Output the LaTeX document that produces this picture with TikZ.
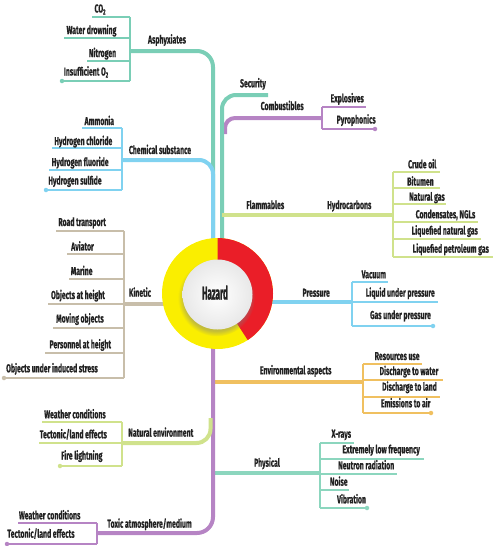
\documentclass[tikz,border=0pt]{standalone}
\usepackage{fontspec}
\setmainfont{Fira Sans}[FakeStretch=0.6,FakeBold=0.5]
\newfontfamily\hazfont{Fira Sans}[FakeStretch=0.44,FakeBold=1.2]
\newcommand{\subtwo}{\raisebox{-2pt}{\fontsize{7.5}{8}\selectfont 2}}
\usetikzlibrary{shadows}
\definecolor{cteal}{RGB}{122,206,182}
\definecolor{cblue}{RGB}{128,210,240}
\definecolor{cpurple}{RGB}{182,132,196}
\definecolor{cgreen}{RGB}{208,226,140}
\definecolor{cbeige}{RGB}{200,190,170}
\definecolor{corange}{RGB}{240,192,96}
\definecolor{cphys}{RGB}{140,214,190}
\definecolor{cred}{RGB}{234,30,40}
\definecolor{cyellow}{RGB}{250,238,0}
\definecolor{ctext}{RGB}{34,34,34}
\begin{document}
\begin{tikzpicture}[x=1pt,y=-1pt,
  lbl/.style={font=\fontsize{11.5}{13}\selectfont\bfseries, inner sep=0pt, anchor=base, text=ctext},
  mainline/.style={line width=4pt},
  subline/.style={line width=1.5pt},
  enddot/.style={circle, inner sep=0pt, minimum size=4.5pt}]
\useasboundingbox (0,0) rectangle (500,546);

% ---------- main branches ----------
\draw[mainline,cteal,rounded corners=16pt] (130,51) -- (213,51) -- (213,240);
\draw[mainline,cpurple,rounded corners=10pt] (322,118) -- (225,118) -- (225,134);
\draw[mainline,cteal,rounded corners=14pt] (268,95) -- (222,95) -- (222,240);
\draw[mainline,cblue,rounded corners=14pt] (122,160) -- (213,160) -- (213,240);
\draw[mainline,cgreen] (222,215) -- (393,215);
\draw[mainline,cbeige] (124,304) -- (170,304);
\draw[mainline,cblue] (265,302) -- (352,302);
\draw[mainline,corange] (213,382) -- (363,382);
\draw[mainline,cphys] (213,473) -- (320,473);
\draw[mainline,cpurple,rounded corners=16pt] (213,345) -- (213,533) -- (97,533);
\draw[mainline,cgreen,rounded corners=14pt] (210.5,418) -- (210.5,443) -- (122,443);

% ---------- hazard circle ----------
\coordinate (hc) at (217.5,293.5);
\fill[cyellow] (hc) circle[radius=55.5pt];
\fill[cred] (hc) -- ++(90:55.5pt) arc[start angle=90,end angle=-57,radius=55.5pt] -- cycle;
\node[circle, minimum size=70pt, inner sep=0pt,
  circular drop shadow={shadow xshift=-1pt, shadow yshift=-3pt, opacity=0.45},
  inner color=white, outer color=gray!18] (hz) at (217.5,294.5) {};
\node[lbl, font=\hazfont\fontsize{18.5}{20}\selectfont\bfseries] (hazard) at (215,299.5) {Hazard};

% ---------- Asphyxiates ----------
\node[lbl] (asph) at (167,43.5) {Asphyxiates};
\draw[subline,cteal] (130,17) -- (130,81);
\foreach \yy/\xx in {17/92,38/64,61/87,81/62} \draw[subline,cteal] (130,\yy) -- (\xx,\yy);
\node[enddot,fill=cteal] (d1) at (62,81) {};
\node[lbl] (co2) at (100,12.5) {CO\subtwo};
\node[lbl] (wd) at (91.5,34) {Water drowning};
\node[lbl] (nit) at (102.5,57) {Nitrogen};
\node[lbl] (ino) at (86,75.5) {Insufficient O\subtwo};

% ---------- Chemical substance ----------
\node[lbl] (chem) at (160,154) {Chemical substance};
\draw[subline,cblue] (122,128) -- (122,190);
\foreach \yy/\xx in {128/82,148/52,170/49,190/46} \draw[subline,cblue] (122,\yy) -- (\xx,\yy);
\node[enddot,fill=cblue] (d2) at (46,190) {};
\node[lbl] (amm) at (99.3,125) {Ammonia};
\node[lbl] (hcl) at (83.3,145) {Hydrogen chloride};
\node[lbl] (hf) at (80.2,166) {Hydrogen fluoride};
\node[lbl] (hs) at (75,184.5) {Hydrogen sulfide};

% ---------- Kinetic ----------
\node[lbl] (kin) at (140,296.7) {Kinetic};
\draw[subline,cbeige] (124,231) -- (124,378);
\foreach \yy/\xx in {231/56,254/67,279/69,304/48,328/53,353/45,378/3} \draw[subline,cbeige] (124,\yy) -- (\xx,\yy);
\node[enddot,fill=cbeige] (d3) at (4,378) {};
\node[lbl] (road) at (82.2,226) {Road transport};
\node[lbl] (avi) at (82.5,250.5) {Aviator};
\node[lbl] (mar) at (81.7,275) {Marine};
\node[lbl] (oah) at (78,299) {Objects at height};
\node[lbl] (mov) at (80,322.5) {Moving objects};
\node[lbl] (pah) at (80.3,348.3) {Personnel at height};
\node[lbl] (ouis) at (52,372.3) {Objects under induced stress};

% ---------- Natural environment ----------
\node[lbl] (nat) at (160.8,436.7) {Natural environment};
\draw[subline,cgreen] (122,422) -- (122,466);
\foreach \yy/\xx in {422/42,443/39,466/60} \draw[subline,cgreen] (122,\yy) -- (\xx,\yy);
\node[enddot,fill=cgreen] (d4) at (60,466) {};
\node[lbl] (nw) at (75,418.3) {Weather conditions};
\node[lbl] (nt) at (73.3,438.3) {Tectonic/land effects};
\node[lbl] (nfl) at (81.8,459.5) {Fire lightning};

% ---------- Toxic ----------
\node[lbl] (tox) at (149.5,527.7) {Toxic atmosphere/medium};
\draw[subline,cpurple] (97,523) -- (97,544);
\foreach \yy/\xx in {523/18,544/7} \draw[subline,cpurple] (97,\yy) -- (\xx,\yy);
\node[enddot,fill=cpurple] (d5) at (7,544) {};
\node[lbl] (tw) at (49.7,519.3) {Weather conditions};
\node[lbl] (tt) at (41,537.7) {Tectonic/land effects};

% ---------- Security / Combustibles ----------
\node[lbl] (sec) at (253,87.3) {Security};
\node[lbl] (comb) at (282.2,110) {Combustibles};
\draw[subline,cpurple] (322,107) -- (322,129);
\foreach \yy/\xx in {107/366,129/375} \draw[subline,cpurple] (322,\yy) -- (\xx,\yy);
\node[enddot,fill=cpurple] (d6) at (375,129) {};
\node[lbl] (expl) at (347.2,102.3) {Explosives};
\node[lbl] (pyro) at (356.2,123.5) {Pyrophonics};

% ---------- Flammables ----------
\node[lbl] (flam) at (265.3,209) {Flammables};
\node[lbl] (hyd) at (349.3,209) {Hydrocarbons};
\draw[subline,cgreen] (393,172) -- (393,257);
\foreach \yy/\xx in {172/440,188/440,204/446,222/478,239/481,257/493} \draw[subline,cgreen] (393,\yy) -- (\xx,\yy);
\node[lbl] (crude) at (422.2,168.3) {Crude oil};
\node[lbl] (bit) at (420.5,185.5) {Bitumen};
\node[lbl] (ng) at (427,200.7) {Natural gas};
\node[lbl] (cond) at (445.5,218.3) {Condensates, NGLs};
\node[lbl] (lng) at (444.8,234.5) {Liquefied natural gas};
\node[lbl] (lpg) at (450.8,252.7) {Liquefied petroleum gas};

% ---------- Pressure ----------
\node[lbl] (pres) at (316.2,296.7) {Pressure};
\draw[subline,cblue] (352,282) -- (352,326);
\foreach \yy/\xx in {282/388,302/438,326/433} \draw[subline,cblue] (352,\yy) -- (\xx,\yy);
\node[enddot,fill=cblue] (d7) at (433,326) {};
\node[lbl] (vac) at (373.8,278.3) {Vacuum};
\node[lbl] (liq) at (400.3,296.7) {Liquid under pressure};
\node[lbl] (gas) at (400.5,319) {Gas under pressure};

% ---------- Environmental aspects ----------
\node[lbl] (env) at (295.7,374.3) {Environmental aspects};
\draw[subline,corange] (363,364) -- (363,413);
\foreach \yy/\xx in {364/422,380/443,397/440,413/431} \draw[subline,corange] (363,\yy) -- (\xx,\yy);
\node[enddot,fill=corange] (d8) at (431,413) {};
\node[lbl] (res) at (397.2,360) {Resources use};
\node[lbl] (dw) at (409,375) {Discharge to water};
\node[lbl] (dl) at (409.5,390.7) {Discharge to land};
\node[lbl] (ea) at (405.7,407.3) {Emissions to air};

% ---------- Physical ----------
\node[lbl] (phys) at (267,466.7) {Physical};
\draw[subline,cphys] (320,443) -- (320,508);
\foreach \yy/\xx in {443/354,459/424,474/397,490/349,508/367} \draw[subline,cphys] (320,\yy) -- (\xx,\yy);
\node[enddot,fill=cphys] (d9) at (367,508) {};
\node[lbl] (xr) at (341.3,437.7) {X-rays};
\node[lbl] (elf) at (381.2,453.3) {Extremely low frequency};
\node[lbl] (neu) at (366.2,469.3) {Neutron radiation};
\node[lbl] (noi) at (338.8,485.7) {Noise};
\node[lbl] (vib) at (351.5,503.3) {Vibration};
\end{tikzpicture}
\end{document}
